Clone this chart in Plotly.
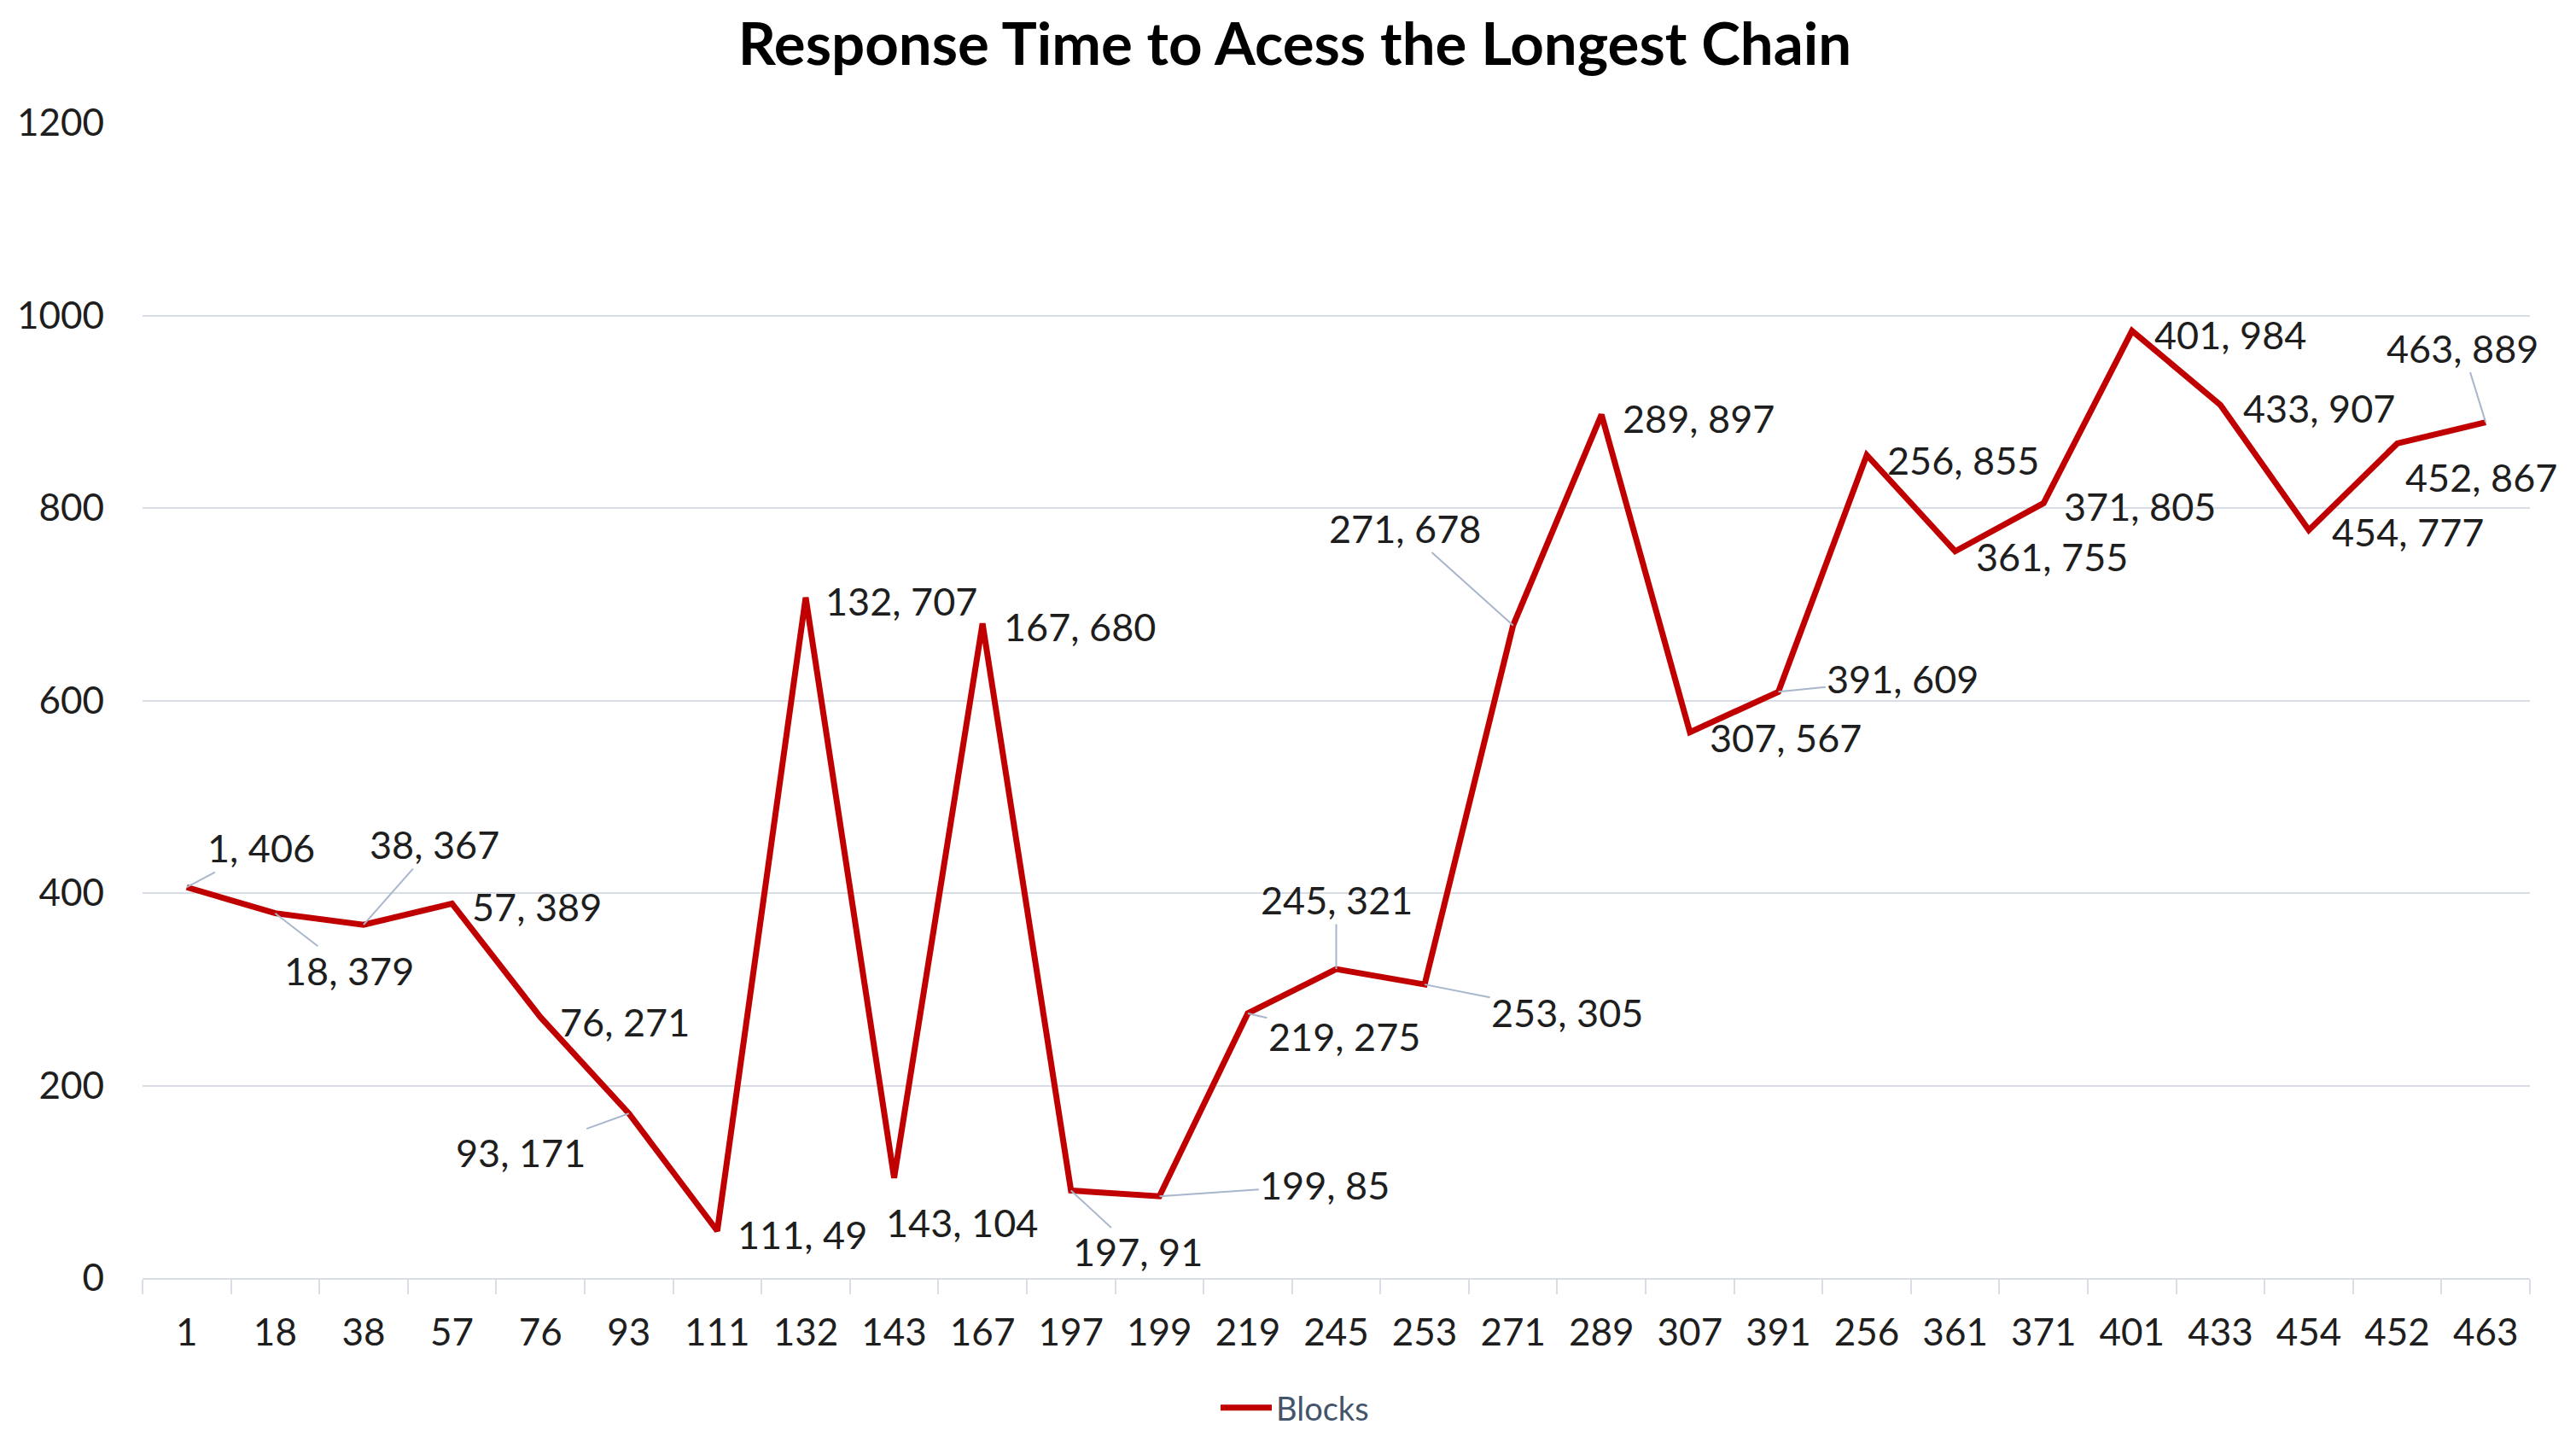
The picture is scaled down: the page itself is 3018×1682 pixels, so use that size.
import plotly.graph_objects as go

# ---- data ----
blocks = ["1", "18", "38", "57", "76", "93", "111", "132", "143", "167", "197", "199",
          "219", "245", "253", "271", "289", "307", "391", "256", "361", "371", "401",
          "433", "454", "452", "463"]
response_time = [406, 379, 367, 389, 271, 171, 49, 707, 104, 680, 91, 85,
                 275, 321, 305, 678, 897, 567, 609, 855, 755, 805, 984,
                 907, 777, 867, 889]
y_ticks = [0, 200, 400, 600, 800, 1000, 1200]

# ---- label placement (pixel offsets, dy positive = down; leader line flag) ----
label_dx = [87, 87, 83, 99, 99, -127, 100, 112, 79, 114, 78, 194, 113, 0, 167, -127,
            114, 112, 146, 113, 113, 113, 115, 116, 116, 98, -27]
label_dy = [-46, 67, -94, 4, 6, 46, 4, 4, 52, 4, 72, -13, 27, -81, 33, -114,
            4, 6, -15, 6, 6, 4, 4, 4, 2, 40, -87]
leader = [True, True, True, False, False, True, False, False, False, False, True, True,
          True, True, True, True, False, False, True, False, False, False, False,
          False, False, False, True]

LINE_RED = "#C00000"
GRID = "#D9DEE6"
TXT = "#1E1E1E"
LEADER = "#A9B6CC"
FONT = "Lato"

fig = go.Figure()
fig.add_trace(go.Scatter(
    x=blocks, y=response_time, mode="lines", name="Blocks",
    line=dict(color=LINE_RED, width=7),
))

annotations = []
for i, (xb, yv, dx, dy, ld) in enumerate(zip(blocks, response_time, label_dx, label_dy, leader)):
    txt = f"{xb}, {yv}"
    if ld:
        annotations.append(dict(
            x=i, y=yv, xref="x", yref="y", text=txt, showarrow=True,
            arrowhead=0, arrowwidth=2, arrowcolor=LEADER, ax=dx, ay=dy,
            font=dict(family=FONT, size=45, color=TXT),
            xanchor="center", yanchor="middle", standoff=0, startstandoff=0,
        ))
    else:
        annotations.append(dict(
            x=i, y=yv, xref="x", yref="y", text=txt, showarrow=False,
            xshift=dx, yshift=-dy,
            font=dict(family=FONT, size=45, color=TXT),
            xanchor="center", yanchor="middle",
        ))

fig.update_layout(
    width=3018, height=1682,
    paper_bgcolor="white", plot_bgcolor="white",
    margin=dict(l=157, r=62, t=136, b=193),
    font=dict(family=FONT, color=TXT),
    title=dict(
        text="<b>Response Time to Acess the Longest Chain</b>",
        x=0.5, xref="container", xanchor="center",
        y=1 - 44 / 1682, yref="container", yanchor="middle",
        font=dict(family=FONT, size=69, color="#000000"),
    ),
    showlegend=True,
    legend=dict(
        orientation="h", x=0.5, xref="container", xanchor="center",
        y=1 - 1641 / 1682, yref="container", yanchor="middle",
        font=dict(family=FONT, size=38, color="#44546A"),
        itemwidth=60,
    ),
    annotations=annotations,
)

fig.update_xaxes(
    type="category", range=[-0.5, len(blocks) - 0.5], autorange=False,
    showgrid=False, showline=True, linecolor=GRID, linewidth=2,
    ticks="outside", tickson="boundaries", ticklen=17, tickwidth=2, tickcolor=GRID,
    tickfont=dict(family=FONT, size=44, color=TXT), ticklabelstandoff=24,
    tickangle=0, zeroline=False,
)
fig.update_yaxes(
    range=[0, 1200], tickvals=y_ticks, showgrid=True, gridcolor=GRID, gridwidth=2,
    showline=False, zeroline=False, ticks="",
    tickfont=dict(family=FONT, size=44, color=TXT), ticklabelstandoff=44,
)

fig.write_html("out.html")
